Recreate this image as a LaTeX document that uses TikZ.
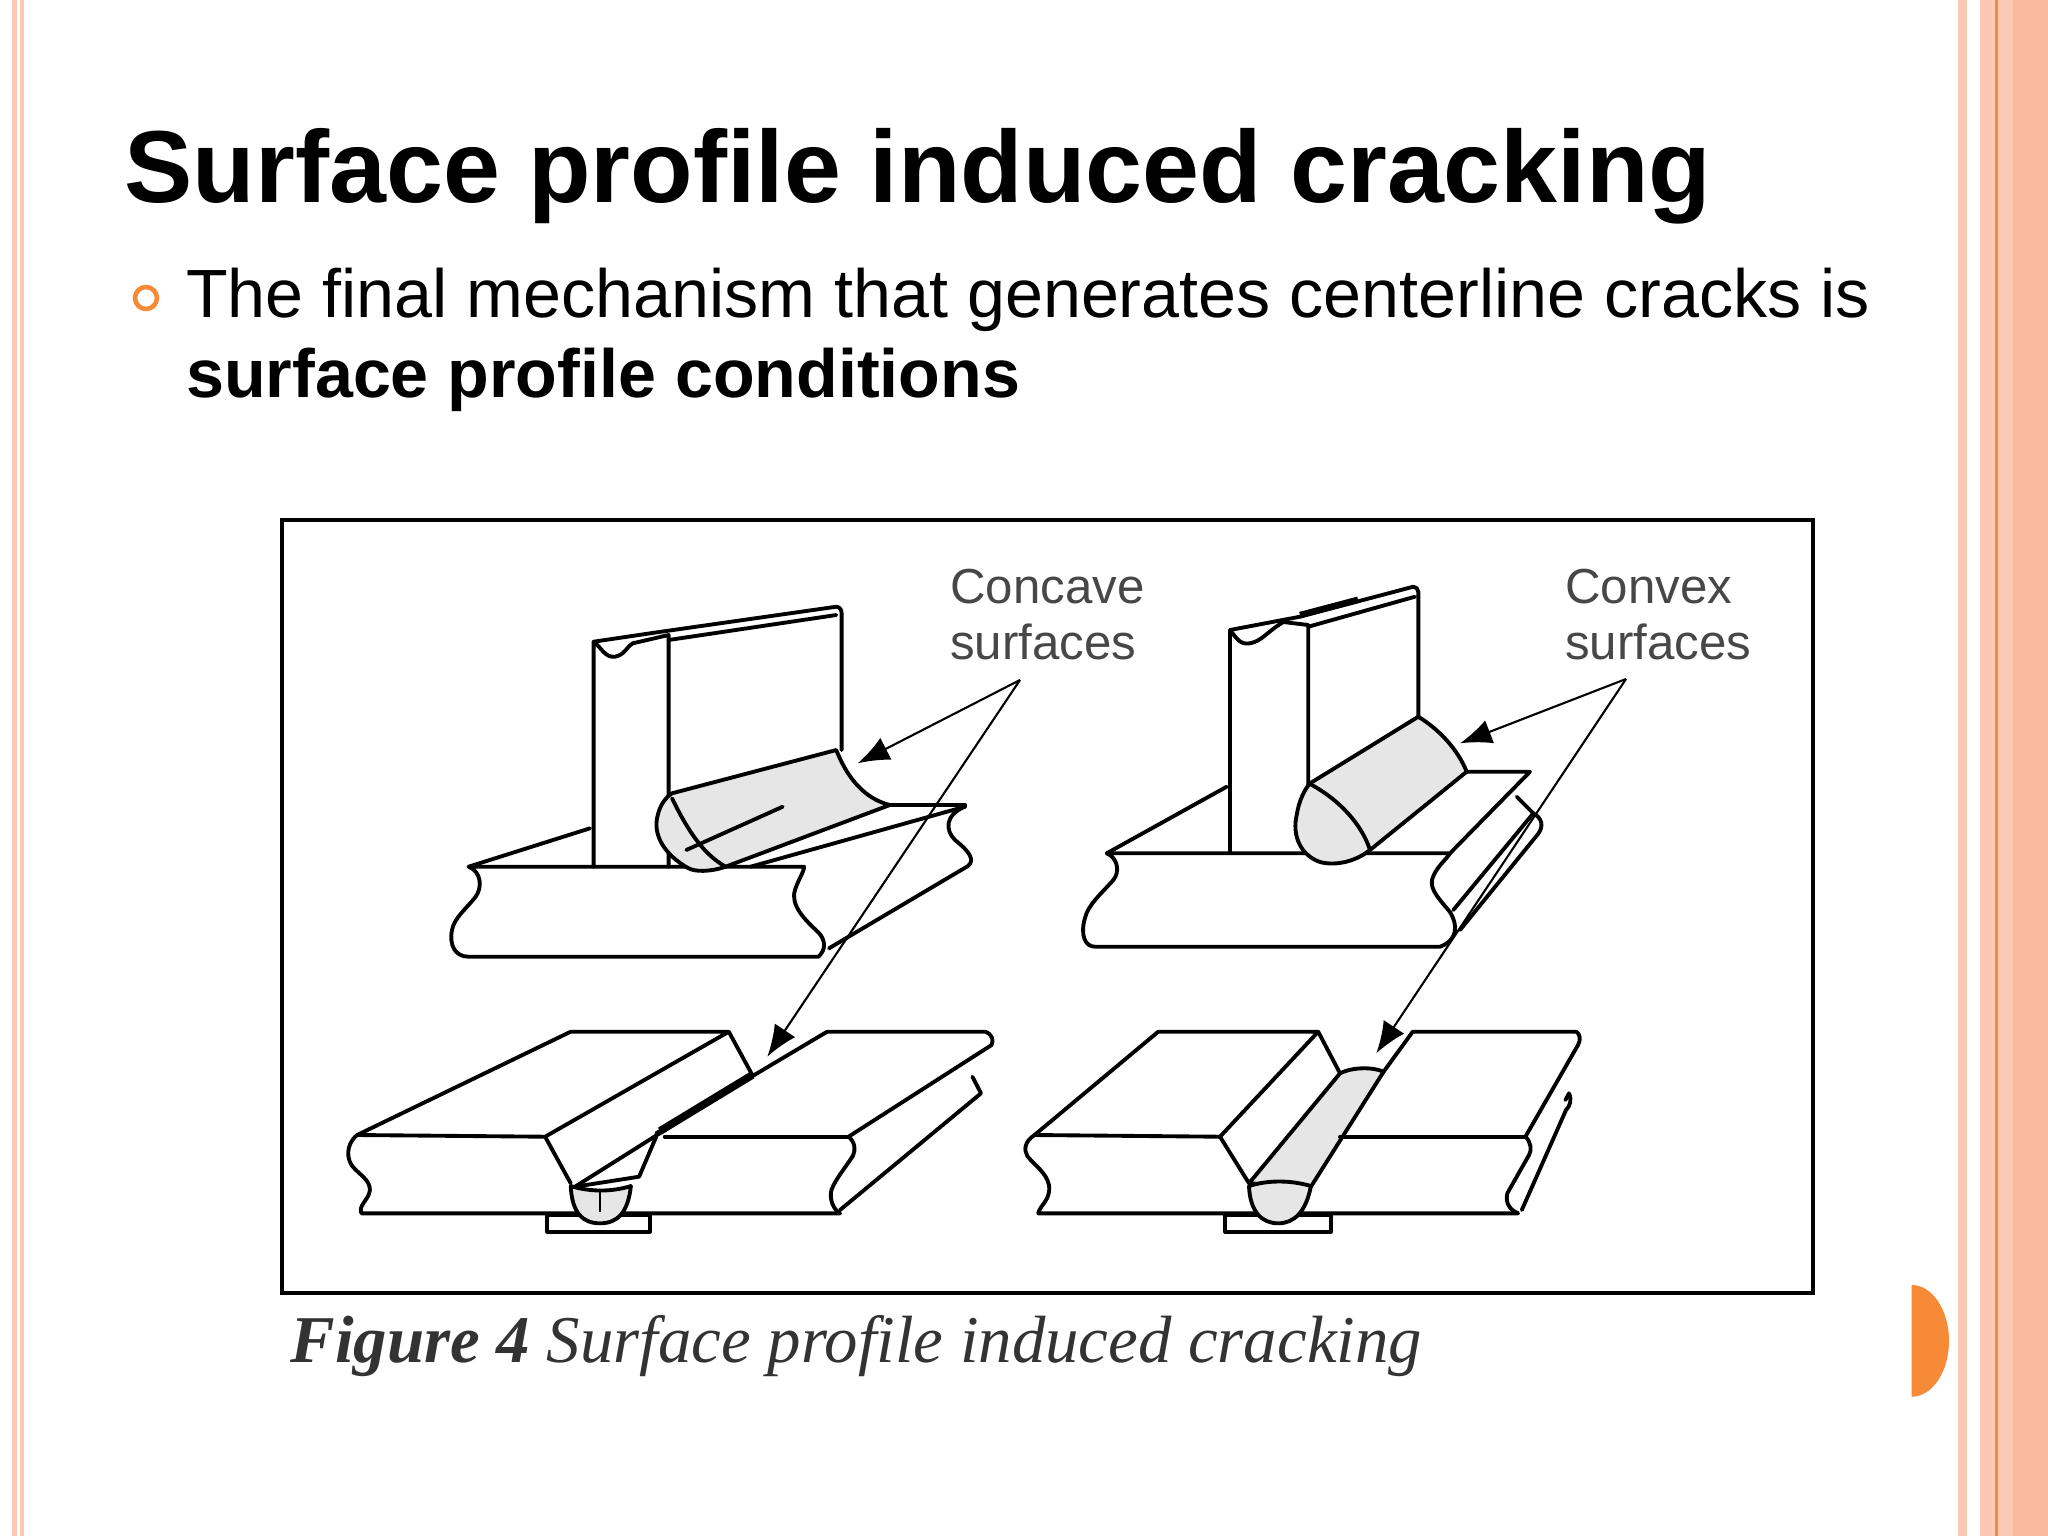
\documentclass[tikz,border=0pt]{standalone}
\usepackage{fontspec}
\setmainfont{Liberation Sans}
\newfontfamily\serifcap{Liberation Serif}
\definecolor{salmon}{HTML}{FBC8B3}
\definecolor{salmond}{HTML}{F9B99F}
\definecolor{orng}{HTML}{F68A37}
\definecolor{beadgray}{HTML}{E6E6E6}
\begin{document}
\begin{tikzpicture}[x=0.01cm,y=-0.01cm,
  ln/.style={line width=1.1pt,line join=round,line cap=round},
  bead/.style={ln,fill=beadgray},
  arr/.style={line width=0.6pt,-{Latex[length=9pt,width=7pt]}},
  lbl/.style={anchor=base west,inner sep=0,text=black!72,font=\fontsize{14pt}{17pt}\selectfont}]
\usetikzlibrary{arrows.meta}
\useasboundingbox (0,0) rectangle (2048,1536);
\fill[white] (0,0) rectangle (2048,1536);
% borders
\fill[salmon] (12,0) rectangle (17,1536);
\fill[salmon] (20,0) rectangle (24,1536);
\fill[salmon] (1958,0) rectangle (1967,1536);
\fill[salmon] (1980,0) rectangle (2048,1536);
\fill[salmond] (2013,0) rectangle (2048,1536);
\draw[orng,line width=0.8pt] (1996.7,0) -- (1996.7,1536);
\fill[orng] (1911.7,1285) arc[start angle=-90,end angle=90,x radius=37.3,y radius=55.85] -- cycle;
% title and bullet
\node[anchor=base west,inner sep=0,font=\bfseries\fontsize{29.1pt}{33pt}\selectfont] (title) at (124,202) {Surface profile induced cracking};
\draw[orng,line width=1.3pt] (146,298) circle[radius=11];
\node[anchor=base west,inner sep=0,font=\fontsize{19.4pt}{23pt}\selectfont] (b1) at (185.5,317) {The final mechanism that generates centerline cracks is};
\node[anchor=base west,inner sep=0,font=\bfseries\fontsize{19.4pt}{23pt}\selectfont] (b2) at (185.5,397) {surface profile conditions};
% figure frame
\draw[line width=1.4pt] (282,520) rectangle (1813,1293);
\node[anchor=base west,inner sep=0,text=black!80,font=\serifcap\itshape\fontsize{19pt}{23pt}\selectfont] (cap) at (290,1362) {\textbf{Figure 4} Surface profile induced cracking};
% ===== top-left (concave fillet) =====
\draw[ln] (593.6,866.7) -- (593.6,641.7) .. controls (600.7,646.7) and (605,658) .. (615,656.7) .. controls (625,655) and (628,645) .. (632.8,643.3) -- (668.6,635) -- (668.6,866.7);
\draw[ln] (593.6,641.7) -- (654.3,632.7) -- (836.3,606.7) .. controls (840,607) and (841.6,610) .. (841.6,613.3) -- (841.6,750);
\draw[ln] (668.6,640) -- (836.3,615);
\draw[ln] (468.6,866.7) -- (590,828.3);
\draw[ln] (889.8,805) -- (964.8,805) -- (964.8,806.7);
\draw[ln] (468.6,866.7) .. controls (482,872) and (482,888) .. (475.7,896.7) .. controls (465,910) and (454.3,918) .. (452,930) .. controls (449,945) and (455,956.7) .. (468.6,956.7) -- (818.4,956.7)
  .. controls (826,950) and (826,940) .. (818,932) .. controls (805,920) and (790,905) .. (795,890) .. controls (798,880) and (804,872) .. (804.1,866.7) -- (468.6,866.7);
\draw[ln] (750.6,866.7) -- (964.8,806.7) .. controls (945,815) and (945,830) .. (955,840) .. controls (970,852) and (975,860) .. (968,866) -- (829,948.3);
\draw[bead] (672,793.3) -- (836.3,750) .. controls (850,785) and (870,800) .. (889.8,805) -- (725.6,866.7)
  .. controls (710,872) and (695,872) .. (688,868) .. controls (665,855) and (652,835) .. (657.8,815) .. controls (660,805) and (666,797) .. (672,793.3) -- cycle;
\draw[ln] (672,798.3) .. controls (690,835) and (705,855) .. (725.6,866.7);
\draw[ln] (686.3,850) -- (782.7,806.7);
% ===== top-right (convex fillet) =====
\draw[ln] (1230,853.3) -- (1230,630) .. controls (1236.7,638.3) and (1240,645) .. (1250,643.3) .. controls (1262,641) and (1266.7,632) .. (1283.3,622) -- (1308.3,625) -- (1308.3,853.3);
\draw[ln] (1230,630) -- (1300,616.7) -- (1413.3,586.7) .. controls (1416,587) and (1418.3,589) .. (1418.3,591.7) -- (1418.3,716.7);
\draw[ln] (1308.3,626.7) -- (1415,596.7);
\draw[line width=1.8pt] (1300,615) -- (1358,599.7);
\draw[ln] (1106.7,853.3) -- (1226.7,786.7);
\draw[ln] (1466.7,771.7) -- (1530,771.7) -- (1450,853.3);
\draw[ln] (1106.7,853.3) .. controls (1118,858) and (1120,872) .. (1113.3,880) .. controls (1100,895) and (1088,905) .. (1085,918) .. controls (1080,935) and (1085,946.7) .. (1095,946.7) -- (1440,946.7)
  .. controls (1458,940) and (1458,925) .. (1450,912) .. controls (1440,900) and (1430,890) .. (1432,880) .. controls (1435,868) and (1446,860) .. (1450,853.3) -- cycle;
\draw[ln] (1516.7,796.7) -- (1533.3,813.3) -- (1453.3,910);
\draw[ln] (1533.3,813.3) .. controls (1542,818) and (1544,826) .. (1538,834) -- (1460,930);
\draw[bead] (1310,783.3) -- (1418.3,716.7) .. controls (1440,730) and (1458,750) .. (1466.7,771.7) -- (1370,850)
  .. controls (1355,862) and (1335,866) .. (1320,862) .. controls (1300,855) and (1292,835) .. (1296.7,815) .. controls (1299,800) and (1305,789) .. (1310,783.3) -- cycle;
\draw[ln] (1310,784) .. controls (1340,800) and (1362,825) .. (1370,850);
% ===== bottom-left (concave butt weld) =====
\draw[ln] (357.1,1135) -- (570.7,1031.7) -- (728.8,1031.7) -- (545.1,1136.7) -- cycle;
\draw[ln] (357.1,1135) .. controls (345,1145) and (347,1160) .. (352.8,1166.7) .. controls (360,1175) and (370,1180) .. (369.9,1190) .. controls (369,1200) and (358,1205) .. (361.4,1213.3) -- (840,1213.3);
\draw[ln] (728.8,1031.7) -- (752.3,1075) -- (575,1186.7);
\draw[ln] (545.1,1136.7) -- (570.7,1183.3);
\draw[ln] (827.1,1031.7) -- (656.2,1133.3);
\draw[line width=2.2pt] (752.3,1075) -- (660,1131);
\draw[ln] (664.7,1136.7) -- (848.5,1136.7);
\draw[ln] (656.2,1136.7) -- (639.1,1176.7);
\draw[ln] (827.1,1031.7) -- (985.2,1031.7) .. controls (992,1034) and (994,1040) .. (991.6,1045) -- (848.5,1136.7);
\draw[ln] (848.5,1136.7) .. controls (855,1142) and (856,1150) .. (852.8,1156) .. controls (845,1168) and (835,1180) .. (831.4,1190) .. controls (829,1200) and (834,1210) .. (840,1213.3);
\draw[ln] (972.4,1076.7) -- (981,1093.3) -- (840,1210);
\draw[ln] (547.2,1215) rectangle (649.8,1231.7);
\draw[bead] (570.7,1186) .. controls (572,1212) and (582,1223.3) .. (600,1223.3) .. controls (618,1223.3) and (628,1212) .. (630.9,1186) .. controls (612,1192) and (590,1192) .. (570.7,1186) -- cycle;
\draw[ln] (575,1186.7) -- (639.1,1176.7);
\draw[line width=0.5pt] (600,1192) -- (600,1212);
% ===== bottom-right (convex butt weld) =====
\draw[ln] (1034.5,1135) -- (1158.2,1031.7) -- (1318.2,1031.7) -- (1220,1136.7) -- cycle;
\draw[ln] (1034.5,1135) .. controls (1024,1142) and (1024,1150) .. (1027.3,1156) .. controls (1035,1166) and (1046,1172) .. (1049,1185) .. controls (1051,1200) and (1040,1205) .. (1038.2,1213.3) -- (1518.1,1213.3);
\draw[ln] (1318.2,1031.7) -- (1340,1073.3);
\draw[ln] (1220,1136.7) -- (1249,1183.3);
\draw[bead] (1340,1073.3) .. controls (1350,1068) and (1370,1066) .. (1383.6,1071.7) -- (1310.9,1186.7) -- (1249,1183.3) -- cycle;
\draw[ln] (1383.6,1071.7) -- (1412.7,1031.7) -- (1576.3,1031.7) .. controls (1580,1034) and (1581,1040) .. (1578,1045) -- (1525.4,1136.7);
\draw[ln] (1340,1136.7) -- (1525.4,1136.7);
\draw[ln] (1525.4,1136.7) .. controls (1531,1142) and (1532,1150) .. (1529,1155) -- (1507.3,1193.3) .. controls (1505,1203) and (1510,1210) .. (1518.1,1213.3);
\draw[ln] (1565.4,1100) -- (1569,1093.3);
\draw[ln] (1569,1093.3) .. controls (1572,1100) and (1570,1106) .. (1566,1110) -- (1521.8,1210);
\draw[ln] (1225.4,1215) rectangle (1330.9,1231.7);
\draw[bead] (1249,1186) .. controls (1250,1212) and (1262,1223.3) .. (1278.2,1223.3) .. controls (1294,1223.3) and (1306,1212) .. (1310.9,1186) .. controls (1290,1180) and (1268,1180) .. (1249,1186) -- cycle;
% ===== labels and arrows =====
\node[lbl] (cc1) at (949.5,603) {Concave};
\node[lbl] (cc2) at (949.5,659.5) {surfaces};
\node[lbl] (cv1) at (1564.6,603) {Convex};
\node[lbl] (cv2) at (1564.6,659.5) {surfaces};
\coordinate (ca) at (1020,680);
\coordinate (cb) at (1626,679);
\coordinate (t1) at (857.7,763.3);
\coordinate (t2) at (767.3,1056.7);
\coordinate (t3) at (1460,743.3);
\coordinate (t4) at (1376.3,1053.3);
\draw[arr] (ca) -- (t1);
\draw[arr] (ca) -- (t2);
\draw[arr] (cb) -- (t3);
\draw[arr] (cb) -- (t4);
\end{tikzpicture}
\end{document}
